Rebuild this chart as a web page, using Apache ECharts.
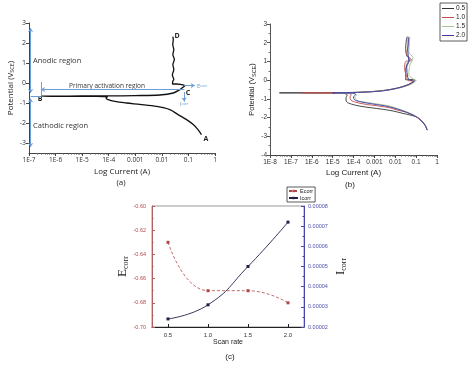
<!DOCTYPE html>
<html><head><meta charset="utf-8">
<script src="https://cdn.jsdelivr.net/npm/echarts@6/dist/echarts.min.js"></script>
<style>html,body{margin:0;padding:0;background:#fff}#c{width:474px;height:368px}</style>
</head><body><div id="c"></div><script>
// ---------- data ----------
// panel (a): x = log10(current / A), y = potential (V_SCE)
const aExponents = [-7, -6, -5, -4, -3, -2, -1, 0];
const aTickLabels = ['1E-7', '1E-6', '1E-5', '1E-4', '0.001', '0.01', '0.1', '1'];
const aYTicks = [3, 2, 1, 0, -1, -2, -3];
const aCurve = [[-0.51,-2.58],[-0.64,-2.33],[-0.82,-2.08],[-1.07,-1.83],[-1.39,-1.58],[-1.70,-1.33],[-2.20,-1.17],[-2.83,-1.07],[-3.33,-1.00],[-3.77,-0.92],[-4.02,-0.83],[-4.10,-0.75],[-4.05,-0.69],[-4.6,-0.67],[-5.5,-0.665],[-6.52,-0.66],[-6.0,-0.655],[-5.0,-0.65],[-4.0,-0.645],[-3.0,-0.63],[-2.08,-0.6],[-1.57,-0.5],[-1.32,-0.33],[-1.19,-0.2],[-1.13,-0.13],[-1.3,-0.07],[-1.45,-0.05],[-1.6,-0.05],[-1.586,0.1],[-1.55,0.17],[-1.605,0.4],[-1.55,0.67],[-1.586,0.92],[-1.53,1.17],[-1.586,1.42],[-1.55,1.67],[-1.59,1.92],[-1.57,2.17],[-1.586,2.32]];

// panel (b)
const bExponents = [-8, -7, -6, -5, -4, -3, -2, -1, 0];
const bTickLabels = ['1E-8', '1E-7', '1E-6', '1E-5', '1E-4', '0.001', '0.01', '0.1', '1'];
const bScanRates = ['0.5', '1.0', '1.5', '2.0'];
const bCurve05 = [[-0.47,-2.67],[-0.55,-2.45],[-0.7,-2.2],[-0.95,-1.98],[-1.3,-1.86],[-1.62,-1.78],[-2.1,-1.65],[-2.58,-1.56],[-3.2,-1.47],[-3.69,-1.39],[-4.1,-1.28],[-4.33,-1.16],[-4.36,-0.95],[-4.3,-0.8],[-4.5,-0.7],[-6.0,-0.685],[-7.55,-0.68],[-6.5,-0.675],[-5.0,-0.67],[-4.0,-0.655],[-3.0,-0.6],[-2.42,-0.53],[-1.78,-0.39],[-1.3,-0.21],[-1.1,-0.08],[-1.05,0.0],[-1.25,0.03],[-1.5,0.02],[-1.5,0.5],[-1.42,0.9],[-1.3,1.1],[-1.45,1.3],[-1.5,1.7],[-1.45,2.3]];
const bCurve10 = [[-0.47,-2.67],[-0.55,-2.45],[-0.7,-2.2],[-0.95,-1.98],[-1.46,-1.72],[-1.9,-1.6],[-2.26,-1.48],[-2.8,-1.38],[-3.37,-1.30],[-3.9,-1.18],[-4.12,-1.07],[-4.17,-0.9],[-4.1,-0.78],[-4.3,-0.7],[-5.5,-0.685],[-6.48,-0.68],[-5.5,-0.675],[-4.5,-0.665],[-3.5,-0.64],[-2.5,-0.55],[-1.8,-0.4],[-1.35,-0.22],[-1.15,-0.05],[-1.4,-0.02],[-1.45,0.2],[-1.55,0.6],[-1.5,1.0],[-1.2,1.05],[-1.45,1.4],[-1.38,1.9],[-1.4,2.35]];
const bCurve15 = [[-0.47,-2.67],[-0.58,-2.4],[-0.98,-1.96],[-1.46,-1.69],[-2.26,-1.39],[-3.06,-1.24],[-3.6,-1.15],[-3.85,-1.07],[-3.93,-0.9],[-3.85,-0.78],[-4.0,-0.7],[-4.9,-0.685],[-4.4,-0.675],[-3.5,-0.645],[-2.5,-0.56],[-1.8,-0.42],[-1.3,-0.25],[-1.05,-0.08],[-1.0,-0.02],[-1.2,0.1],[-1.35,0.3],[-1.3,0.8],[-1.15,1.2],[-1.35,1.5],[-1.32,2.0],[-1.3,2.3]];
const bCurve20 = [[-0.47,-2.67],[-0.58,-2.4],[-0.98,-1.97],[-1.5,-1.7],[-2.3,-1.42],[-3.1,-1.27],[-3.7,-1.15],[-3.95,-1.05],[-4.0,-0.9],[-3.9,-0.76],[-4.1,-0.69],[-5.0,-0.68],[-4.5,-0.675],[-3.6,-0.65],[-2.6,-0.57],[-1.9,-0.43],[-1.4,-0.26],[-1.1,-0.05],[-1.3,0.0],[-1.4,0.15],[-1.45,0.7],[-1.35,1.0],[-1.4,1.6],[-1.35,2.3]];

// panel (c)
const scanRates = [0.5, 1.0, 1.5, 2.0];
const ecorr = [-0.63, -0.67, -0.67, -0.68];
const icorr = [0.000024, 0.000031, 0.00005, 0.000072];

const mantissas = [2, 3, 4, 5, 6, 7, 8, 9];

// ---------- helpers ----------
function minorTicks(exps) {
  const out = [];
  for (let i = 0; i < exps.length - 1; i++) mantissas.forEach(m => out.push(exps[i] + Math.log10(m)));
  return out;
}
function labelMap(exps, labels) { const m = {}; exps.forEach((e, i) => m[e] = labels[i]); return m; }
const aMap = labelMap(aExponents, aTickLabels);
const bMap = labelMap(bExponents, bTickLabels);

const FA = 'Open Sans';
const FB = 'Liberation Sans';
const blue = '#6c9fd6';

function majorX(grid, min, max, exps, map, font, nameGap) {
  return {
    type: 'value', gridIndex: grid, min: min, max: max, interval: 1, position: 'bottom',
    axisLine: { onZero: false, lineStyle: { color: '#444', width: 1 } },
    axisTick: { length: 3, lineStyle: { color: '#444' } },
    axisLabel: { fontSize: 6.5, fontFamily: font, color: '#333', margin: 4, formatter: v => map[Math.round(v)] },
    splitLine: { show: false },
    name: 'Log Current (A)', nameLocation: 'middle', nameGap: nameGap,
    nameTextStyle: { fontSize: 8, fontFamily: font, color: '#222' }
  };
}
function minorX(grid, min, max, exps) {
  return {
    type: 'value', gridIndex: grid, min: min, max: max, position: 'bottom',
    axisLine: { show: false, onZero: false }, axisLabel: { show: false }, splitLine: { show: false },
    axisTick: { show: true, length: 1.5, customValues: minorTicks(exps), lineStyle: { color: '#555' } }
  };
}
function arrow(p1, p2, s1, s2) {
  return [{ coord: p1, symbol: s1 }, { coord: p2, symbol: s2 }];
}

const option = {
  animation: false,
  backgroundColor: '#fff',
  grid: [
    { left: 29, top: 23, width: 186, height: 130 },
    { left: 270, top: 24, width: 167, height: 131 },
    { left: 152, top: 206, width: 152, height: 121, show: true, borderColor: '#999', borderWidth: 1 }
  ],
  xAxis: [
    majorX(0, -7, 0, aExponents, aMap, FA, 15),
    minorX(0, -7, 0, aExponents),
    majorX(1, -8, 0, bExponents, bMap, FB, 14),
    minorX(1, -8, 0, bExponents),
    {
      type: 'value', gridIndex: 2, min: 0.3, max: 2.2, position: 'bottom',
      axisLine: { onZero: false, lineStyle: { color: '#222' } },
      axisTick: { customValues: scanRates, length: 3, inside: true, lineStyle: { color: '#222' } },
      axisLabel: { customValues: scanRates, fontSize: 6, fontFamily: FB, color: '#333', margin: 5, formatter: v => v.toFixed(1) },
      splitLine: { show: false },
      name: 'Scan rate', nameLocation: 'middle', nameGap: 12,
      nameTextStyle: { fontSize: 7, fontFamily: FB, color: '#222' }
    }
  ],
  yAxis: [
    {
      type: 'value', gridIndex: 0, min: -3.5, max: 3, position: 'left',
      axisLine: { show: true, onZero: false, lineStyle: { color: '#444' } },
      axisTick: { show: true, length: 3, customValues: aYTicks, lineStyle: { color: '#444' } },
      axisLabel: { customValues: aYTicks, fontSize: 7, fontFamily: FA, color: '#333', margin: 3 },
      splitLine: { show: false },
      name: 'Potential (V{s|SCE})', nameLocation: 'middle', nameGap: 13, nameRotate: 90,
      nameTextStyle: { fontSize: 8, fontFamily: FA, color: '#222', rich: { s: { fontSize: 5.5, fontFamily: FA, padding: [4, 0, 0, 0] } } }
    },
    {
      type: 'value', gridIndex: 1, min: -4, max: 3, interval: 1, position: 'left',
      axisLine: { show: true, onZero: false, lineStyle: { color: '#555' } },
      axisTick: { show: true, length: 3, lineStyle: { color: '#555' } },
      minorTick: { show: true, splitNumber: 2, length: 1.5, lineStyle: { color: '#777' } },
      axisLabel: { fontSize: 6.5, fontFamily: FB, color: '#333', margin: 3 },
      splitLine: { show: false },
      name: 'Potential (V{s|SCE})', nameLocation: 'middle', nameGap: 11, nameRotate: 90,
      nameTextStyle: { fontSize: 7.5, fontFamily: FB, color: '#222', rich: { s: { fontSize: 5.5, fontFamily: FB, padding: [4, 0, 0, 0] } } }
    },
    {
      type: 'value', gridIndex: 2, min: -0.70, max: -0.60, interval: 0.02, position: 'left',
      axisLine: { show: true, onZero: false, lineStyle: { color: '#b06060' } },
      axisTick: { show: true, inside: true, length: 3, lineStyle: { color: '#b06060' } },
      minorTick: { show: true, splitNumber: 2, length: 1.5, lineStyle: { color: '#b06060' } },
      axisLabel: { fontSize: 5.5, fontFamily: FB, color: '#b04a4a', margin: 6, formatter: v => v.toFixed(2) },
      splitLine: { show: false },
      name: 'E{s|corr}', nameLocation: 'middle', nameGap: 17, nameRotate: 90,
      nameTextStyle: { fontSize: 13, fontFamily: 'Liberation Serif', color: '#222', rich: { s: { fontSize: 8, fontFamily: 'Liberation Serif', padding: [6, 0, 0, 0] } } }
    },
    {
      type: 'value', gridIndex: 2, min: 0.00002, max: 0.00008, interval: 0.00001, position: 'right',
      axisLine: { show: true, onZero: false, lineStyle: { color: '#4848a8' } },
      axisTick: { show: true, inside: true, length: 3, lineStyle: { color: '#4848a8' } },
      minorTick: { show: true, splitNumber: 2, length: 1.5, lineStyle: { color: '#4848a8' } },
      axisLabel: { fontSize: 5.5, fontFamily: FB, color: '#5050a8', margin: 4, formatter: v => v.toFixed(5) },
      splitLine: { show: false },
      name: 'I{s|corr}', nameLocation: 'middle', nameGap: 30, nameRotate: 90,
      nameTextStyle: { fontSize: 13, fontFamily: 'Liberation Serif', color: '#222', rich: { s: { fontSize: 8, fontFamily: 'Liberation Serif', padding: [6, 0, 0, 0] } } }
    }
  ],
  legend: [
    {
      data: bScanRates, orient: 'vertical', left: 440, top: 3, icon: 'rect', itemWidth: 12, itemHeight: 1,
      itemGap: 2, padding: [2, 2, 2, 2], borderColor: '#333', borderWidth: 0.8, borderRadius: 0,
      textStyle: { fontSize: 6.5, fontFamily: FB, color: '#222', lineHeight: 7, padding: [0, 0, 0, -3] }
    },
    {
      data: ['Ecorr', 'Icorr'], orient: 'vertical', left: 287, top: 187, itemWidth: 9, itemHeight: 3,
      itemGap: 1, padding: [1, 2, 1, 1], borderColor: '#333', borderWidth: 0.8,
      textStyle: { fontSize: 5.5, fontFamily: FB, color: '#222', lineHeight: 6, padding: [0, 0, 0, -3] }
    }
  ],
  series: [
    {
      name: 'a', type: 'line', xAxisIndex: 0, yAxisIndex: 0, data: aCurve, showSymbol: false, smooth: 0.3,
      lineStyle: { color: '#111', width: 1.3 }, silent: true
    },
    {
      name: 'annot', type: 'line', xAxisIndex: 0, yAxisIndex: 0, data: [], silent: true,
      markLine: {
        silent: true, animation: false, symbolSize: 4, label: { show: false },
        lineStyle: { color: blue, width: 1, type: 'solid' },
        data: [
          arrow([-6.94, 2.75], [-6.94, -0.5], 'arrow', 'arrow'),
          arrow([-6.94, -0.78], [-6.94, -3.2], 'arrow', 'arrow'),
          arrow([-6.94, -0.65], [-6.55, -0.65], 'none', 'none'),
          arrow([-6.55, 0.05], [-6.55, -0.65], 'none', 'none'),
          arrow([-6.55, -0.33], [-1.15, -0.33], 'arrow', 'none'),
          arrow([-1.16, -0.13], [-0.76, -0.13], 'none', 'arrow'),
          arrow([-1.16, -0.45], [-1.16, -0.93], 'none', 'arrow')
        ]
      }
    },
    { name: '0.5', type: 'line', xAxisIndex: 2, yAxisIndex: 1, data: bCurve05, showSymbol: false, smooth: 0.3, lineStyle: { color: '#333', width: 0.9 }, itemStyle: { color: '#333' } },
    { name: '1.0', type: 'line', xAxisIndex: 2, yAxisIndex: 1, data: bCurve10, showSymbol: false, smooth: 0.3, lineStyle: { color: '#c0504d', width: 0.9 }, itemStyle: { color: '#c0504d' } },
    { name: '1.5', type: 'line', xAxisIndex: 2, yAxisIndex: 1, data: bCurve15, showSymbol: false, smooth: 0.3, lineStyle: { color: '#a3c28f', width: 0.9 }, itemStyle: { color: '#a3c28f' } },
    { name: '2.0', type: 'line', xAxisIndex: 2, yAxisIndex: 1, data: bCurve20, showSymbol: false, smooth: 0.3, lineStyle: { color: '#3b3ba8', width: 0.9 }, itemStyle: { color: '#3b3ba8' } },
    {
      name: 'Ecorr', type: 'line', xAxisIndex: 4, yAxisIndex: 2, smooth: true,
      data: scanRates.map((x, i) => [x, ecorr[i]]),
      symbol: 'rect', symbolSize: 3, lineStyle: { color: '#b04848', width: 0.8, type: [3, 2] }, itemStyle: { color: '#b04848' }
    },
    {
      name: 'Icorr', type: 'line', xAxisIndex: 4, yAxisIndex: 3, smooth: true,
      data: scanRates.map((x, i) => [x, icorr[i]]),
      symbol: 'rect', symbolSize: 3, lineStyle: { color: '#20204a', width: 0.9 }, itemStyle: { color: '#20204a' }
    }
  ],
  graphic: [
    { type: 'text', left: 33, top: 57, style: { text: 'Anodic region', fontSize: 7.5, fontFamily: FA, fill: '#333' } },
    { type: 'text', left: 33, top: 122, style: { text: 'Cathodic region', fontSize: 7.5, fontFamily: FA, fill: '#333' } },
    { type: 'text', x: 107, y: 86, style: { text: 'Primary activation region', fontSize: 6.5, fontFamily: FA, fill: '#333', align: 'center', verticalAlign: 'middle' } },
    { type: 'text', x: 40, y: 99, style: { text: 'B', fontSize: 7, fontWeight: 'bold', fontFamily: FA, fill: '#222', align: 'center', verticalAlign: 'middle' } },
    { type: 'text', x: 188, y: 93, style: { text: 'C', fontSize: 7, fontWeight: 'bold', fontFamily: FA, fill: '#222', align: 'center', verticalAlign: 'middle' } },
    { type: 'text', x: 177, y: 36, style: { text: 'D', fontSize: 7, fontWeight: 'bold', fontFamily: FA, fill: '#222', align: 'center', verticalAlign: 'middle' } },
    { type: 'text', x: 206, y: 139, style: { text: 'A', fontSize: 7, fontWeight: 'bold', fontFamily: FA, fill: '#222', align: 'center', verticalAlign: 'middle' } },
    { type: 'text', x: 197, y: 86, style: { text: 'E{s|corr}', rich: { s: { fontSize: 4, fill: blue } }, fontSize: 6, fontFamily: FA, fill: blue, verticalAlign: 'middle' } },
    { type: 'text', x: 184, y: 104, style: { text: 'I{s|corr}', rich: { s: { fontSize: 4, fill: blue } }, fontSize: 6, fontFamily: FA, fill: blue, align: 'center', verticalAlign: 'middle' } },
    { type: 'text', x: 121, y: 183, style: { text: '(a)', fontSize: 8, fontFamily: FA, fill: '#222', align: 'center', verticalAlign: 'middle' } },
    { type: 'text', x: 350, y: 185, style: { text: '(b)', fontSize: 8, fontFamily: FB, fill: '#222', align: 'center', verticalAlign: 'middle' } },
    { type: 'text', x: 230, y: 357, style: { text: '(c)', fontSize: 8, fontFamily: FB, fill: '#222', align: 'center', verticalAlign: 'middle' } }
  ]
};
const chart = echarts.init(document.getElementById('c'), null, { renderer: 'canvas' });
chart.setOption(option);
</script></body></html>
